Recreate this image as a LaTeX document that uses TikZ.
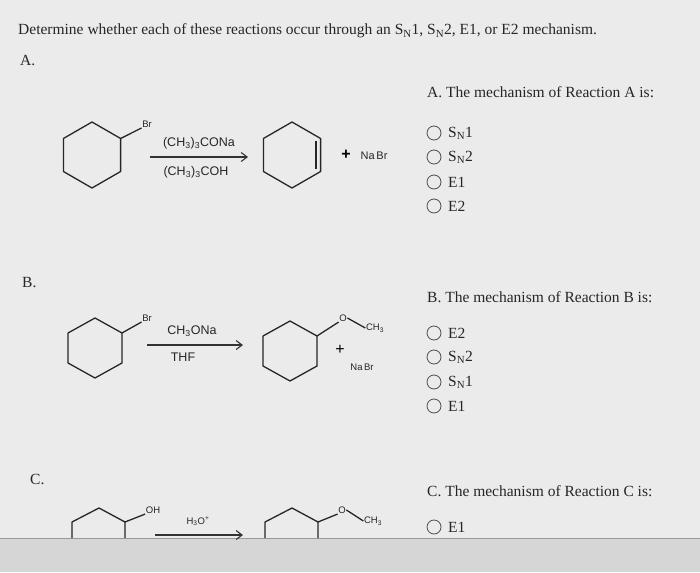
\documentclass[tikz,border=0pt]{standalone}
\usepackage{fontspec}
\usetikzlibrary{arrows.meta}
\setmainfont{Liberation Serif}
\newfontfamily\chemf{Liberation Sans}
\begin{document}
\begin{tikzpicture}[x=1pt,y=-1pt,
  bond/.style={line width=1.3pt,line join=round,draw=black!85},
  txt/.style={anchor=base west,inner sep=0pt,font=\fontsize{15.5}{18}\selectfont,text=black!85},
  chem/.style={inner sep=0.5pt,font=\chemf\fontsize{12.5}{14}\selectfont,text=black!85},
  chems/.style={inner sep=0.5pt,font=\chemf\fontsize{9.5}{11}\selectfont,text=black!85},
  opt/.style={circle,draw=black!70,line width=0.8pt,minimum size=14pt,inner sep=0pt},
  rx/.style={line width=1.1pt,draw=black!80,-{Straight Barb[length=6pt,width=9pt]}}]
\useasboundingbox (0,0) rectangle (700,572);
\fill[black!8] (0,0) rectangle (700,572);
\fill[black!16] (0,538) rectangle (700,572);
\draw[black!40,line width=1pt] (0,538) -- (700,538);
% texts
\node[txt] (title) at (18,35) {Determine whether each of these reactions occur through an S\textsubscript{N}1, S\textsubscript{N}2, E1, or E2 mechanism.};
\node[txt] (la) at (20,66) {A.};
\node[txt] (qa) at (427,98) {A. The mechanism of Reaction A is:};
\node[txt] (lb) at (22,287) {B.};
\node[txt] (qb) at (427,302) {B. The mechanism of Reaction B is:};
\node[txt] (lc) at (30,484) {C.};
\node[txt] (qc) at (427,496) {C. The mechanism of Reaction C is:};
% options
\foreach \y/\t [count=\i] in {133/S\textsubscript{N}1,157/S\textsubscript{N}2,182/E1,206/E2}{
  \node[opt] (oa\i) at (434,\y) {};
  \node[txt,anchor=west] (ta\i) at (448,\y) {\t};}
\foreach \y/\t [count=\i] in {333/E2,357/S\textsubscript{N}2,382/S\textsubscript{N}1,406/E1}{
  \node[opt] (ob\i) at (434,\y) {};
  \node[txt,anchor=west] (tb\i) at (448,\y) {\t};}
\node[opt] (oc1) at (434,527) {};
\node[txt,anchor=west] (tc1) at (448,527) {E1};
% Reaction A
\draw[bond] (92,122)--(120.6,138.5)--(120.6,171.5)--(92,188)--(63.4,171.5)--(63.4,138.5)--cycle;
\node[chems] (brA) at (147,124) {Br};
\draw[bond] (120.6,138.5) -- (brA.south west);
\coordinate (a1) at (150,157); \coordinate (a2) at (248,157);
\draw[rx] (a1) -- (a2);
\node[chem] (rA1) at (199,143) {(CH\textsubscript{3})\textsubscript{3}CONa};
\node[chem] (rA2) at (196,172) {(CH\textsubscript{3})\textsubscript{3}COH};
\draw[bond] (292,122)--(320.6,138.5)--(320.6,171.5)--(292,188)--(263.4,171.5)--(263.4,138.5)--cycle;
\draw[bond] (316,141) -- (316,169);
\node[font=\chemf\bfseries\fontsize{16}{16}\selectfont,inner sep=0pt] (plA) at (346,155) {+};
\node[chem,font=\chemf\fontsize{11}{12}\selectfont] (nbA) at (374,156) {Na\,Br};
% Reaction B
\draw[bond] (95,318)--(122,333)--(122,363)--(95,378)--(68,363)--(68,333)--cycle;
\node[chems] (brB) at (147,318) {Br};
\draw[bond] (122,333) -- (brB.south west);
\coordinate (b1) at (147,345); \coordinate (b2) at (243,345);
\draw[rx] (b1) -- (b2);
\node[chem] (rB1) at (192,331) {CH\textsubscript{3}ONa};
\node[chem] (rB2) at (183,357) {THF};
\draw[bond] (290,321)--(317,336)--(317,366)--(290,381)--(263,366)--(263,336)--cycle;
\node[chems] (oB) at (343,318) {O};
\node[chems] (chB) at (375,328) {CH\textsubscript{3}};
\draw[bond] (317,336) -- (oB.south west);
\draw[bond] (oB.east) -- (chB.west);
\node[font=\chemf\fontsize{16}{16}\selectfont,inner sep=0pt] (plB) at (340,350) {+};
\node[chems] (nbB) at (362,367) {Na\,Br};
% Reaction C
\draw[bond] (72,538)--(72,522)--(99,508)--(125,522)--(125,538);
\node[chems] (ohC) at (153,510) {OH};
\draw[bond] (125,522) -- (ohC.south west);
\coordinate (c1) at (155,535); \coordinate (c2) at (243,535);
\draw[rx] (c1) -- (c2);
\node[chems] (rC) at (198,521) {H\textsubscript{3}O\textsuperscript{+}};
\draw[bond] (265,538)--(265,522)--(292,508)--(318,522)--(318,538);
\node[chems] (oC) at (342,510) {O};
\node[chems] (chC) at (373,521) {CH\textsubscript{3}};
\draw[bond] (318,522) -- (oC.south west);
\draw[bond] (oC.east) -- (chC.west);
\end{tikzpicture}
\end{document}
